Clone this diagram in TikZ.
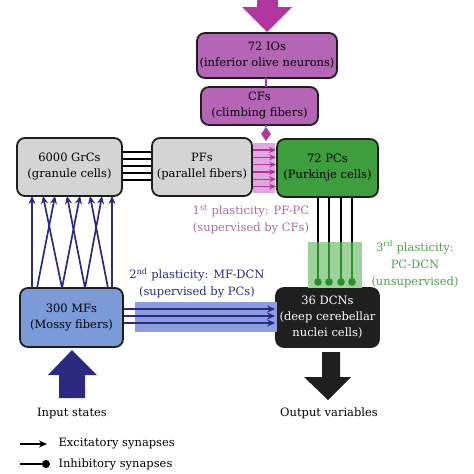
\documentclass[tikz,border=0pt]{standalone}
\usepackage{fontspec}
\setmainfont{DejaVu Serif}
\usetikzlibrary{arrows.meta,shapes.geometric}
\definecolor{navy}{HTML}{2B2A80}
\definecolor{mfblue}{HTML}{7B9BD8}
\definecolor{bandblue}{HTML}{8C9EE0}
\definecolor{iopurple}{HTML}{B565B5}
\definecolor{magenta2}{HTML}{B0379F}
\definecolor{pinkband}{HTML}{DE9FDA}
\definecolor{pinktext}{HTML}{A96AA8}
\definecolor{pcgreen}{HTML}{3E9E3E}
\definecolor{greenband}{HTML}{9BD39B}
\definecolor{greenline}{HTML}{2E8B2E}
\definecolor{greentext}{HTML}{4EA04E}
\definecolor{boxgray}{HTML}{D4D4D4}
\definecolor{edge}{HTML}{1E1E1E}
\begin{document}
\begin{tikzpicture}[x=1pt,y=-1pt,
  cell/.style={draw=edge,line width=1.8pt,rounded corners=8pt,align=center,
    font=\fontsize{11.5}{16}\selectfont,inner sep=0pt},
  exc/.style={-{Stealth[length=8pt,width=7pt]},line width=1.7pt},
  lbl/.style={align=center,font=\fontsize{11.5}{17}\selectfont}
]
\useasboundingbox (0,0) rectangle (474,474);
% boxes
\node[cell,fill=iopurple,minimum width=140pt,minimum height=45pt] (io) at (267,55.5) {72 IOs\\(inferior olive neurons)};
\node[cell,fill=iopurple,minimum width=117pt,minimum height=38pt] (cf) at (259.5,106) {CFs\\(climbing fibers)};
\node[cell,fill=boxgray,minimum width=105pt,minimum height=58pt] (grc) at (69.5,167) {6000 GrCs\\(granule cells)};
\node[cell,fill=boxgray,minimum width=100pt,minimum height=58pt] (pf) at (202,167) {PFs\\(parallel fibers)};
\node[cell,fill=pcgreen,minimum width=101pt,minimum height=58pt] (pc) at (327.5,168) {72 PCs\\(Purkinje cells)};
\node[cell,fill=mfblue,minimum width=103pt,minimum height=59pt] (mf) at (71.5,317.5) {300 MFs\\(Mossy fibers)};
\node[cell,fill=black!88,text=white,minimum width=103pt,minimum height=59pt] (dcn) at (327.5,317.5) {36 DCNs\\(deep cerebellar\\nuclei cells)};

% top block arrow into IO
\fill[magenta2] (257,0) -- (278,0) -- (278,7) -- (292,7) -- (267,32) -- (242,7) -- (257,7) -- cycle;

% IO -> CF -> diamond
\coordinate (cfa) at (266,78);
\coordinate (cfb) at (266,87);
\draw[magenta2,line width=1.3pt] (cfa) -- (cfb);
\fill[pinkband,opacity=0.9] (253,143) rectangle (275,193);
\node[diamond,fill=magenta2,inner sep=0pt,minimum width=10pt,minimum height=14pt] (dia) at (266,134) {};
\coordinate (cfc) at (266,125);
\draw[magenta2,line width=1.3pt] (cfc) -- (dia.north);

% PF -> PC arrows
\foreach \y in {150,157.3,164.6,171.9,179.2,186.5}{
  \draw[-{Stealth[length=7pt,width=6pt]},magenta2,line width=1.4pt] (pf.east |- 0,\y) -- (pc.west |- 0,\y);
}
% GrC -> PF lines
\foreach \y in {152,159,166,173,180}{
  \draw[line width=1.4pt] (grc.east |- 0,\y) -- (pf.west |- 0,\y);
}

% MF -> GrC arrows
\foreach \b/\t in {32/32,37/55,62/43,62/80,85/67,85/102,108/90,112/112}{
  \draw[exc,navy] (\b,288) -- (\t,196);
}

% MF -> DCN band and arrows
\fill[bandblue] (135,302) rectangle (277,332);
\foreach \y in {309,316,323}{
  \draw[exc,navy] (mf.east |- 0,\y) -- (dcn.west |- 0,\y);
}

% PC -> DCN inhibitory
\fill[greenband] (308,242) rectangle (362,288);
\foreach \x in {318,329,341,352}{
  \draw[line width=1.5pt] (\x,197) -- (\x,242);
  \draw[greenline,line width=1.5pt] (\x,242) -- (\x,280);
  \fill[greenline] (\x,282) circle (3.8pt);
}

% labels
\node[lbl,text=pinktext] (pl1) at (251,219.5) {1\textsuperscript{st} plasticity: PF-PC\\(supervised by CFs)};
\node[lbl,text=navy] (pl2) at (197,283) {2\textsuperscript{nd} plasticity: MF-DCN\\(supervised by PCs)};
\node[lbl,text=greentext] (pl3) at (415,264) {3\textsuperscript{rd} plasticity:\\PC-DCN\\(unsupervised)};

% input arrow
\fill[navy] (59,398) -- (85,398) -- (85,375) -- (97,375) -- (72,350) -- (48,375) -- (59,375) -- cycle;
\node[lbl] (inp) at (72,413) {Input states};
% output arrow
\fill[black!88] (322,352) -- (340,352) -- (340,377) -- (351,377) -- (328,400) -- (304,377) -- (322,377) -- cycle;
\node[lbl] (outp) at (329,413) {Output variables};

% legend
\coordinate (l1a) at (20,444);
\coordinate (l1b) at (47,444);
\coordinate (l2a) at (20,464);
\coordinate (l2b) at (46,464);
\draw[-{Stealth[length=8pt,width=7pt]},line width=1.5pt] (l1a) -- (l1b);
\draw[line width=1.5pt] (l2a) -- (l2b);
\fill (l2b) circle (4pt);
\node[lbl,anchor=west] (leg1) at (55,444) {Excitatory synapses};
\node[lbl,anchor=west] (leg2) at (55,464) {Inhibitory synapses};
\end{tikzpicture}
\end{document}
